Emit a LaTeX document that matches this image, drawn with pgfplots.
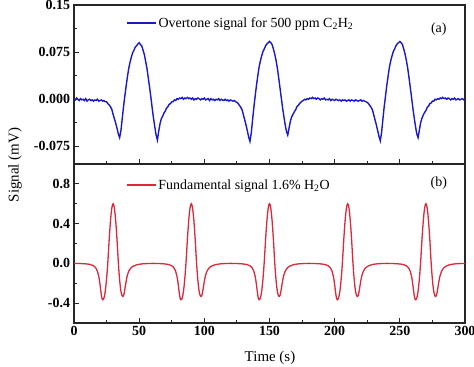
\documentclass[border=0pt]{standalone}
\usepackage{pgfplots}
\pgfplotsset{compat=1.18}
\usepackage{fontspec}
\setmainfont{Liberation Serif}
\definecolor{oblue}{RGB}{25,25,200}
\definecolor{fred}{RGB}{218,40,60}

\pgfplotstableread{
t y
0 0.001
1 -0.001
2 0.002
3 0.000
4 -0.002
5 0.001
6 -0.001
7 0.000
8 -0.002
9 0.001
10 -0.003
11 -0.001
12 0.000
13 -0.002
14 -0.001
15 -0.003
16 -0.001
17 -0.002
18 0.000
19 -0.003
20 -0.002
21 -0.001
22 -0.003
23 -0.002
24 -0.004
25 -0.004
26 -0.007
27 -0.009
28 -0.012
29 -0.016
30 -0.024
31 -0.031
32 -0.038
33 -0.046
34 -0.055
35 -0.061
36 -0.050
37 -0.031
38 -0.012
39 0.005
40 0.021
41 0.036
42 0.049
43 0.059
44 0.067
45 0.074
46 0.078
47 0.083
48 0.085
49 0.088
50 0.090
51 0.087
52 0.085
53 0.078
54 0.071
55 0.060
56 0.049
57 0.034
58 0.019
59 0.003
60 -0.014
61 -0.030
62 -0.044
63 -0.057
64 -0.065
65 -0.051
66 -0.039
67 -0.031
68 -0.027
69 -0.022
70 -0.019
71 -0.014
72 -0.012
73 -0.008
74 -0.007
75 -0.004
76 -0.004
77 -0.001
78 -0.002
79 0.001
80 0.000
81 0.002
82 0.001
83 0.003
84 0.000
85 0.002
86 0.001
87 0.003
88 0.001
89 0.002
90 0.000
91 0.002
92 -0.001
93 0.001
94 0.000
95 0.002
96 0.001
97 -0.001
98 0.001
99 0.000
100 0.002
101 -0.001
102 0.000
103 0.001
104 -0.002
105 0.001
106 -0.001
107 0.000
108 -0.002
109 0.000
110 -0.001
111 0.001
112 -0.002
113 0.000
114 -0.001
115 -0.002
116 0.000
117 -0.002
118 -0.001
119 -0.003
120 -0.001
121 -0.002
122 -0.003
123 -0.002
124 -0.004
125 -0.005
126 -0.007
127 -0.010
128 -0.013
129 -0.017
130 -0.025
131 -0.033
132 -0.041
133 -0.050
134 -0.060
135 -0.067
136 -0.054
137 -0.033
138 -0.013
139 0.005
140 0.022
141 0.037
142 0.051
143 0.061
144 0.069
145 0.076
146 0.080
147 0.085
148 0.088
149 0.090
150 0.092
151 0.090
152 0.087
153 0.080
154 0.072
155 0.062
156 0.050
157 0.035
158 0.019
159 0.003
160 -0.013
161 -0.027
162 -0.040
163 -0.051
164 -0.057
165 -0.046
166 -0.035
167 -0.028
168 -0.024
169 -0.020
170 -0.017
171 -0.012
172 -0.010
173 -0.007
174 -0.005
175 -0.003
176 -0.002
177 0.000
178 -0.001
179 0.001
180 0.000
181 0.002
182 0.001
183 0.003
184 0.001
185 0.002
186 0.000
187 0.002
188 0.001
189 -0.001
190 0.001
191 0.000
192 0.002
193 -0.001
194 0.000
195 -0.001
196 0.001
197 -0.002
198 0.000
199 -0.001
200 -0.002
201 0.000
202 -0.001
203 -0.002
204 -0.001
205 -0.003
206 -0.001
207 -0.002
208 -0.001
209 -0.003
210 -0.002
211 -0.001
212 -0.003
213 -0.001
214 -0.002
215 -0.003
216 -0.001
217 -0.002
218 -0.003
219 -0.002
220 -0.001
221 -0.003
222 -0.002
223 -0.003
224 -0.004
225 -0.005
226 -0.007
227 -0.010
228 -0.013
229 -0.017
230 -0.025
231 -0.033
232 -0.041
233 -0.050
234 -0.059
235 -0.066
236 -0.053
237 -0.032
238 -0.012
239 0.005
240 0.022
241 0.037
242 0.051
243 0.061
244 0.069
245 0.076
246 0.080
247 0.085
248 0.088
249 0.090
250 0.092
251 0.090
252 0.087
253 0.080
254 0.072
255 0.062
256 0.050
257 0.035
258 0.019
259 0.003
260 -0.014
261 -0.029
262 -0.043
263 -0.055
264 -0.061
265 -0.049
266 -0.037
267 -0.030
268 -0.025
269 -0.021
270 -0.018
271 -0.013
272 -0.011
273 -0.007
274 -0.006
275 -0.003
276 -0.003
277 0.000
278 -0.001
279 0.001
280 0.000
281 0.002
282 0.001
283 0.003
284 0.001
285 0.002
286 0.000
287 0.002
288 0.001
289 -0.001
290 0.001
291 0.000
292 0.002
293 -0.001
294 0.000
295 0.001
296 -0.001
297 0.000
298 0.001
299 -0.001
300 0.000
}\overtone

\pgfplotstableread{
t y
0 0.000
4 -0.001
7 -0.003
10 -0.006
12 -0.010
14 -0.018
15 -0.025
16 -0.035
17 -0.052
18 -0.080
19 -0.130
19.5 -0.168
20 -0.215
20.5 -0.270
21 -0.320
21.5 -0.355
22 -0.366
22.5 -0.362
23 -0.348
23.5 -0.322
24 -0.280
24.5 -0.225
25 -0.155
25.5 -0.075
26 0.020
26.5 0.130
27 0.243
27.5 0.340
28 0.428
28.5 0.500
29 0.555
29.5 0.588
30 0.600
30.5 0.588
31 0.555
31.5 0.500
32 0.428
32.5 0.340
33 0.240
33.5 0.125
34 0.012
34.5 -0.085
35 -0.165
35.5 -0.230
36 -0.280
36.5 -0.312
37 -0.328
37.5 -0.333
38 -0.325
38.5 -0.300
39 -0.262
39.5 -0.220
40 -0.180
40.5 -0.145
41 -0.117
42 -0.080
43 -0.057
44 -0.042
45 -0.032
46 -0.025
48 -0.015
50 -0.009
53 -0.004
56 -0.002
60 0.000
64 -0.001
67 -0.003
70 -0.006
72 -0.010
74 -0.018
75 -0.025
76 -0.035
77 -0.052
78 -0.080
79 -0.130
79.5 -0.168
80 -0.215
80.5 -0.270
81 -0.320
81.5 -0.355
82 -0.366
82.5 -0.362
83 -0.348
83.5 -0.322
84 -0.280
84.5 -0.225
85 -0.155
85.5 -0.075
86 0.020
86.5 0.130
87 0.243
87.5 0.340
88 0.428
88.5 0.500
89 0.555
89.5 0.588
90 0.600
90.5 0.588
91 0.555
91.5 0.500
92 0.428
92.5 0.340
93 0.240
93.5 0.125
94 0.012
94.5 -0.085
95 -0.165
95.5 -0.230
96 -0.280
96.5 -0.312
97 -0.328
97.5 -0.333
98 -0.325
98.5 -0.300
99 -0.262
99.5 -0.220
100 -0.180
100.5 -0.145
101 -0.117
102 -0.080
103 -0.057
104 -0.042
105 -0.032
106 -0.025
108 -0.015
110 -0.009
113 -0.004
116 -0.002
120 0.000
124 -0.001
127 -0.003
130 -0.006
132 -0.010
134 -0.018
135 -0.025
136 -0.035
137 -0.052
138 -0.080
139 -0.130
139.5 -0.168
140 -0.215
140.5 -0.270
141 -0.320
141.5 -0.355
142 -0.366
142.5 -0.362
143 -0.348
143.5 -0.322
144 -0.280
144.5 -0.225
145 -0.155
145.5 -0.075
146 0.020
146.5 0.130
147 0.243
147.5 0.340
148 0.428
148.5 0.500
149 0.555
149.5 0.588
150 0.600
150.5 0.588
151 0.555
151.5 0.500
152 0.428
152.5 0.340
153 0.240
153.5 0.125
154 0.012
154.5 -0.085
155 -0.165
155.5 -0.230
156 -0.280
156.5 -0.312
157 -0.328
157.5 -0.333
158 -0.325
158.5 -0.300
159 -0.262
159.5 -0.220
160 -0.180
160.5 -0.145
161 -0.117
162 -0.080
163 -0.057
164 -0.042
165 -0.032
166 -0.025
168 -0.015
170 -0.009
173 -0.004
176 -0.002
180 0.000
184 -0.001
187 -0.003
190 -0.006
192 -0.010
194 -0.018
195 -0.025
196 -0.035
197 -0.052
198 -0.080
199 -0.130
199.5 -0.168
200 -0.215
200.5 -0.270
201 -0.320
201.5 -0.355
202 -0.366
202.5 -0.362
203 -0.348
203.5 -0.322
204 -0.280
204.5 -0.225
205 -0.155
205.5 -0.075
206 0.020
206.5 0.130
207 0.243
207.5 0.340
208 0.428
208.5 0.500
209 0.555
209.5 0.588
210 0.600
210.5 0.588
211 0.555
211.5 0.500
212 0.428
212.5 0.340
213 0.240
213.5 0.125
214 0.012
214.5 -0.085
215 -0.165
215.5 -0.230
216 -0.280
216.5 -0.312
217 -0.328
217.5 -0.333
218 -0.325
218.5 -0.300
219 -0.262
219.5 -0.220
220 -0.180
220.5 -0.145
221 -0.117
222 -0.080
223 -0.057
224 -0.042
225 -0.032
226 -0.025
228 -0.015
230 -0.009
233 -0.004
236 -0.002
240 0.000
244 -0.001
247 -0.003
250 -0.006
252 -0.010
254 -0.018
255 -0.025
256 -0.035
257 -0.052
258 -0.080
259 -0.130
259.5 -0.168
260 -0.215
260.5 -0.270
261 -0.320
261.5 -0.355
262 -0.366
262.5 -0.362
263 -0.348
263.5 -0.322
264 -0.280
264.5 -0.225
265 -0.155
265.5 -0.075
266 0.020
266.5 0.130
267 0.243
267.5 0.340
268 0.428
268.5 0.500
269 0.555
269.5 0.588
270 0.600
270.5 0.588
271 0.555
271.5 0.500
272 0.428
272.5 0.340
273 0.240
273.5 0.125
274 0.012
274.5 -0.085
275 -0.165
275.5 -0.230
276 -0.280
276.5 -0.312
277 -0.328
277.5 -0.333
278 -0.325
278.5 -0.300
279 -0.262
279.5 -0.220
280 -0.180
280.5 -0.145
281 -0.117
282 -0.080
283 -0.057
284 -0.042
285 -0.032
286 -0.025
288 -0.015
290 -0.009
293 -0.004
296 -0.002
300 0.000
}\fundamental

\begin{document}
\begin{tikzpicture}
\pgfplotsset{
  every axis/.append style={
    scale only axis, width=391bp, height=159bp,
    xmin=0, xmax=300,
    axis line style={line width=1.1bp, black!85},
    every tick/.style={line width=0.9bp, black!85},
    tick align=inside, tick pos=left,
    major tick length=5bp, minor tick length=3bp,
    xtick={0,50,...,300}, minor xtick={25,75,...,275},
    ticklabel style={font=\fontsize{14}{16}\selectfont\bfseries},
    yticklabel style={xshift=-0.5bp},
    legend cell align=left,
    legend image code/.code={\draw[#1] (0bp,0bp) -- (27bp,0bp); \path (0bp,0bp) -- (29bp,0bp);},
  },
}
\useasboundingbox (-74bp,-44bp) rectangle (400bp,323bp);
% top panel
\begin{axis}[
  at={(0,159bp)},
  ymin=-0.103, ymax=0.15,
  ytick={-0.075,0,0.075,0.15},
  yticklabels={-0.075,0.000,0.075,0.15},
  minor ytick={-0.0375,0.0375,0.1125},
  xticklabels={},
  legend style={at={(axis description cs:0.133,0.887)}, anchor=west,
    draw=none, fill=none, inner sep=0pt,
    font=\fontsize{14}{16}\selectfont},
]
\addplot[color=oblue, line width=1.4bp] table[x=t,y=y] {\overtone};
\addlegendentry{Overtone signal for 500 ppm C\textsubscript{2}H\textsubscript{2}}
\node[font=\fontsize{14}{16}\selectfont] at (axis description cs:0.933,0.85) {(a)};
\end{axis}
% bottom panel
\begin{axis}[
  at={(0,0)},
  ymin=-0.6, ymax=1.0,
  ytick={-0.4,0,0.4,0.8},
  yticklabels={-0.4,0.0,0.4,0.8},
  minor ytick={-0.2,0.2,0.6},
  xticklabels={0,50,100,150,200,250,300},
  legend style={at={(axis description cs:0.133,0.868)}, anchor=west,
    draw=none, fill=none, inner sep=0pt,
    font=\fontsize{14}{16}\selectfont},
]
\addplot[color=fred, line width=1.3bp] table[x=t,y=y] {\fundamental};
\addlegendentry{Fundamental signal 1.6\% H\textsubscript{2}O}
\node[font=\fontsize{14}{16}\selectfont] at (axis description cs:0.933,0.88) {(b)};
\end{axis}
\node[rotate=90, font=\fontsize{15}{17}\selectfont] at (-59bp,158bp) {Signal (mV)};
\node[font=\fontsize{15}{17}\selectfont] at (196bp,-35bp) {Time (s)};
\end{tikzpicture}
\end{document}
